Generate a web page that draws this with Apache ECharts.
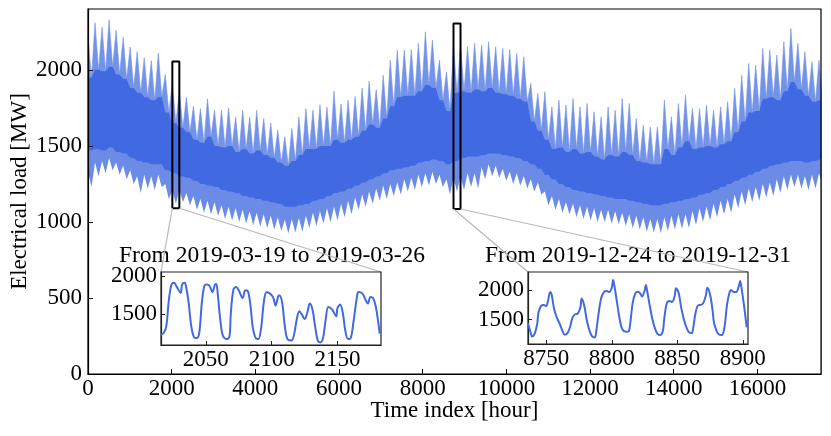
<!DOCTYPE html>
<html>
<head>
<meta charset="utf-8">
<script src="https://cdn.jsdelivr.net/npm/echarts@6/dist/echarts.min.js"></script>
<style>html,body{margin:0;padding:0;background:#fff}#c{width:831px;height:436px}</style>
</head>
<body>
<div id="c"></div>
<script>
// ---------------- data ----------------
const HOURS_PER_WEEK = 168;
// weekly envelope of the hourly load [MW], week 0 .. 104
const weeklyPeak = [2220,2310,2280,2330,2260,2215,2150,2120,2080,2060,
  2110,1970,1910,1860,1820,1760,1745,1810,1735,1735,
  1750,1690,1735,1690,1735,1680,1650,1605,1560,1615,
  1690,1745,1735,1770,1755,1860,1775,1800,1825,1880,
  1925,1870,1965,2064,2130,2130,2134,2174,2250,2196,
  2064,1987,2160,2163,2152,2174,2163,2185,2152,2141,
  2134,2108,2086,1911,1845,1856,1757,1801,1768,1812,
  1757,1779,1724,1691,1757,1735,1812,1779,1680,1636,
  1625,1625,1801,1691,1779,1834,1746,1746,1768,1735,
  1757,1790,1878,1965,2042,2031,2141,2130,2097,2185,
  2272,2174,2119,2053,2064];
const weeklyCoreTop = [1950,2000,1990,2020,1970,1940,1880,1850,1820,1800,
  1820,1720,1650,1620,1590,1540,1520,1560,1500,1490,
  1500,1460,1480,1450,1470,1440,1420,1390,1370,1400,
  1440,1480,1480,1500,1500,1540,1520,1540,1560,1600,
  1640,1620,1680,1760,1820,1830,1830,1860,1900,1880,
  1800,1730,1850,1860,1850,1870,1860,1880,1850,1840,
  1830,1810,1790,1660,1600,1540,1480,1490,1460,1480,
  1450,1460,1430,1410,1440,1430,1460,1440,1400,1390,
  1380,1380,1480,1440,1490,1530,1480,1490,1500,1490,
  1510,1530,1590,1660,1720,1730,1810,1820,1800,1860,
  1920,1870,1830,1790,1800];
const weeklyCoreBottom = [1470,1480,1470,1490,1460,1450,1420,1400,1390,1380,
  1380,1340,1320,1300,1290,1270,1250,1240,1230,1210,
  1200,1190,1170,1160,1150,1140,1130,1120,1100,1100,
  1110,1120,1140,1150,1170,1190,1200,1220,1240,1260,
  1280,1300,1320,1340,1350,1360,1370,1390,1400,1410,
  1400,1380,1400,1420,1430,1430,1440,1450,1450,1440,
  1430,1420,1400,1380,1350,1310,1280,1250,1230,1210,
  1200,1190,1180,1170,1160,1150,1150,1140,1130,1120,
  1110,1110,1120,1130,1140,1150,1160,1180,1190,1210,
  1230,1250,1270,1290,1310,1330,1350,1370,1380,1390,
  1400,1400,1390,1400,1410];
const weeklyTroughUpper = [1330,1390,1400,1420,1390,1370,1340,1300,1310,1300,
  1310,1250,1210,1210,1190,1170,1150,1140,1130,1110,
  1100,1090,1080,1070,1060,1050,1040,1030,1015,1020,
  1025,1040,1060,1070,1090,1100,1120,1140,1160,1180,
  1200,1220,1240,1250,1260,1280,1290,1310,1320,1330,
  1310,1280,1290,1300,1320,1320,1360,1380,1370,1350,
  1330,1320,1300,1280,1260,1200,1170,1150,1130,1120,
  1110,1100,1090,1080,1080,1070,1060,1050,1040,1030,
  1020,1020,1030,1040,1050,1050,1070,1090,1100,1120,
  1140,1150,1180,1200,1220,1230,1250,1260,1280,1300,
  1310,1310,1300,1310,1320];
const weeklyTroughLower = [1230,1300,1320,1340,1310,1280,1250,1190,1220,1210,
  1230,1150,1120,1130,1110,1080,1060,1050,1040,1020,
  1010,1000,990,980,970,960,950,940,925,930,
  935,960,975,990,1000,1010,1030,1050,1080,1100,
  1120,1140,1150,1170,1180,1200,1210,1230,1240,1250,
  1230,1180,1200,1210,1230,1220,1280,1300,1290,1270,
  1250,1240,1220,1200,1180,1110,1080,1060,1050,1030,
  1020,1010,1000,1000,990,985,975,960,950,935,
  930,925,940,950,955,960,980,1000,1010,1030,
  1050,1060,1090,1110,1130,1140,1160,1170,1190,1210,
  1230,1220,1210,1220,1240];

// inset 1 : 2019-03-19 .. 2019-03-26
const inset1Hours = [2016,2018,2020,2022,2024,2026,2028,2031,2032,2034,2035,2037,2039,2041,2043,2045,2047,2049,
  2051,2053,2055,2057,2058,2059,2061,2063,2066,2068,2069,2071,2073,2075,2078,2080,2082,2084,2086,2089,2090,
  2092,2094,2096,2098,2101,2103,2105,2106,2108,2110,2112,2115,2117,2119,2121,2123,2125,2127,2129,2131,2133,
  2135,2137,2139,2141,2143,2146,2149,2150,2152,2154,2156,2158,2160,2162,2165,2166,2169,2171,2173,2175,2177,
  2179,2181,2182];
const inset1Load = [1226,1248,1336,1690,1889,1912,1858,1779,1889,1912,1867,1646,1336,1195,1181,1248,1646,1876,
  1889,1867,1788,1889,1898,1779,1425,1212,1168,1204,1513,1823,1858,1814,1712,1814,1801,1602,1292,1168,1168,
  1314,1646,1788,1779,1726,1611,1735,1743,1646,1336,1168,1150,1226,1425,1535,1491,1434,1513,1637,1558,1336,
  1150,1124,1181,1425,1593,1558,1469,1580,1624,1513,1270,1168,1181,1381,1757,1792,1770,1699,1637,1726,1712,
  1602,1381,1239];

// inset 2 : 2019-12-24 .. 2019-12-31
const inset2Hours = [8736,8738,8739,8741,8743,8744,8746,8748,8750,8751,8753,8754,8756,8758,8760,8762,8764,8766,
  8768,8770,8772,8774,8776,8777,8779,8781,8783,8785,8787,8788,8790,8792,8794,8796,8798,8800,8801,8802,8804,
  8806,8808,8811,8813,8814,8816,8818,8820,8822,8823,8825,8826,8827,8829,8831,8833,8835,8837,8839,8840,8842,
  8844,8846,8848,8849,8851,8853,8855,8857,8859,8861,8862,8864,8866,8868,8870,8872,8873,8875,8877,8878,8880,
  8882,8884,8886,8888,8890,8891,8893,8895,8897,8898,8899,8901,8903];
const inset2Load = [1438,1281,1213,1253,1421,1618,1730,1747,1730,1787,1966,1927,1674,1534,1438,1326,1242,1264,
  1365,1534,1590,1601,1702,1854,1730,1478,1309,1213,1197,1281,1618,1871,1966,1983,1966,2039,2169,2067,1787,
  1506,1337,1292,1303,1421,1787,1944,1972,1933,1888,1983,2084,1983,1730,1506,1348,1253,1236,1309,1506,1775,
  1815,1798,1899,2028,1955,1702,1506,1365,1281,1270,1337,1618,1742,1747,1787,1927,2039,1927,1646,1449,1309,
  1242,1236,1365,1758,1966,2000,1966,1966,2067,2152,2039,1730,1365];

const inset1Range = { x: [2016, 2183], y: [1090, 2055] };
const inset2Range = { x: [8736, 8904], y: [1085, 2305] };
const inset1Title = 'From 2019-03-19 to 2019-03-26';
const inset2Title = 'From 2019-12-24 to 2019-12-31';

const mainXRange = [0, 17520];
const mainYRange = [0, 2400];
const mainXTicks = [0, 2000, 4000, 6000, 8000, 10000, 12000, 14000, 16000];
const mainYTicks = [0, 500, 1000, 1500, 2000];
const inset1XTicks = [2050, 2100, 2150];
const inset2XTicks = [8750, 8800, 8850, 8900];
const insetYTicks = [1500, 2000];

// ---------------- chart ----------------
const FONT = 'Liberation Serif';
const BLUE = '#4169E1';
const LIGHT = '#7393e9';
const LOWER = '#6b8be6';

function weekly(a, b) {
  const out = [];
  for (let w = 0; w < a.length; w++) {
    out.push([w * HOURS_PER_WEEK, a[w]]);
    out.push([w * HOURS_PER_WEEK + HOURS_PER_WEEK / 2, b[w]]);
  }
  return out;
}
function zip(xs, ys) { return xs.map((x, i) => [x, ys[i]]); }
function rect(r) {
  return [[r.x[0], r.y[0]], [r.x[1], r.y[0]], [r.x[1], r.y[1]], [r.x[0], r.y[1]], [r.x[0], r.y[0]]];
}
const plain = (v) => String(v);

const bandBase = {
  type: 'line', xAxisIndex: 0, yAxisIndex: 0, symbol: 'none', showSymbol: false,
  silent: true, animation: false, clip: true, lineStyle: { opacity: 0, width: 0 }
};

const lbl = (size) => ({ fontFamily: FONT, fontSize: size, color: '#000' });

function axisCommon(color, len, ticks, margin) {
  return {
    axisLine: { show: true, lineStyle: { color: color, width: 1.2 } },
    axisTick: { show: true, inside: true, length: len, customValues: ticks, lineStyle: { color: color, width: 1 } },
    axisLabel: Object.assign(lbl(23), { customValues: ticks, margin: margin, formatter: plain }),
    splitLine: { show: false }
  };
}

const chart = echarts.init(document.getElementById('c'), null, { renderer: 'canvas' });
chart.setOption({
  animation: false,
  backgroundColor: '#fff',
  title: [
    { text: inset1Title, left: 272, top: 244, textAlign: 'center', padding: 0,
      textStyle: Object.assign(lbl(23.5), { fontWeight: 'normal' }) },
    { text: inset2Title, left: 638, top: 244, textAlign: 'center', padding: 0,
      textStyle: Object.assign(lbl(23.5), { fontWeight: 'normal' }) }
  ],
  grid: [
    { left: 88, top: 9, right: 10, bottom: 62, show: true, backgroundColor: 'transparent',
      borderColor: '#000', borderWidth: 1.2, z: 5, containLabel: false, outerBoundsMode: 'none' },
    { left: 161, top: 272, width: 220, height: 73, show: true, backgroundColor: '#fff',
      borderColor: '#222', borderWidth: 1.2, z: 10, containLabel: false, outerBoundsMode: 'none' },
    { left: 528, top: 272, width: 220, height: 72, show: true, backgroundColor: '#fff',
      borderColor: '#222', borderWidth: 1.2, z: 10, containLabel: false, outerBoundsMode: 'none' }
  ],
  xAxis: [
    Object.assign({ type: 'value', gridIndex: 0, min: mainXRange[0], max: mainXRange[1], z: 6,
      name: 'Time index [hour]', nameLocation: 'middle', nameGap: 25, nameMoveOverlap: false,
      nameTextStyle: lbl(23) },
      axisCommon('#000', 5, mainXTicks, 3)),
    Object.assign({ type: 'value', gridIndex: 1, min: inset1Range.x[0], max: inset1Range.x[1], z: 11 },
      axisCommon('#222', 4, inset1XTicks, 3)),
    Object.assign({ type: 'value', gridIndex: 2, min: inset2Range.x[0], max: inset2Range.x[1], z: 11 },
      axisCommon('#222', 4, inset2XTicks, 3))
  ],
  yAxis: [
    Object.assign({ type: 'value', gridIndex: 0, min: mainYRange[0], max: mainYRange[1], z: 6,
      name: 'Electrical load [MW]', nameLocation: 'middle', nameGap: 57, nameMoveOverlap: false,
      nameTextStyle: lbl(23) },
      axisCommon('#000', 5, mainYTicks, 6)),
    Object.assign({ type: 'value', gridIndex: 1, min: inset1Range.y[0], max: inset1Range.y[1], z: 11 },
      axisCommon('#222', 4, insetYTicks, 4)),
    Object.assign({ type: 'value', gridIndex: 2, min: inset2Range.y[0], max: inset2Range.y[1], z: 11 },
      axisCommon('#222', 4, insetYTicks, 4))
  ],
  series: [
    Object.assign({}, bandBase, { name: 'peaks', z: 2, data: weekly(weeklyPeak, weeklyCoreTop),
      lineStyle: { color: LIGHT, width: 0.6 }, areaStyle: { color: LIGHT, opacity: 1 } }),
    Object.assign({}, bandBase, { name: 'core', z: 2, data: weekly(weeklyCoreTop, weeklyCoreTop),
      areaStyle: { color: BLUE, opacity: 1 } }),
    Object.assign({}, bandBase, { name: 'lower', z: 2, data: weekly(weeklyCoreBottom, weeklyCoreBottom),
      areaStyle: { color: LOWER, opacity: 1 } }),
    Object.assign({}, bandBase, { name: 'troughs', z: 2, data: weekly(weeklyTroughUpper, weeklyTroughLower),
      areaStyle: { color: '#ffffff', opacity: 1 } }),
    { type: 'line', xAxisIndex: 0, yAxisIndex: 0, z: 6, symbol: 'none', silent: true, clip: false,
      data: rect(inset1Range), lineStyle: { color: '#000', width: 2 } },
    { type: 'line', xAxisIndex: 0, yAxisIndex: 0, z: 6, symbol: 'none', silent: true, clip: false,
      data: rect(inset2Range), lineStyle: { color: '#000', width: 2 } },
    { type: 'line', xAxisIndex: 1, yAxisIndex: 1, z: 12, symbol: 'none', silent: true, smooth: 0.35,
      data: zip(inset1Hours, inset1Load), lineStyle: { color: BLUE, width: 2 } },
    { type: 'line', xAxisIndex: 2, yAxisIndex: 2, z: 12, symbol: 'none', silent: true, smooth: 0.35,
      data: zip(inset2Hours, inset2Load), lineStyle: { color: BLUE, width: 2 } }
  ]
});

// connector lines from the marked boxes to the insets (positions through the axes' scales)
const px = (gi, xy) => chart.convertToPixel({ gridIndex: gi }, xy);
const links = [
  [px(0, [inset1Range.x[0], inset1Range.y[0]]), px(1, [inset1Range.x[0], inset1Range.y[1]])],
  [px(0, [inset1Range.x[1], inset1Range.y[0]]), px(1, [inset1Range.x[1], inset1Range.y[1]])],
  [px(0, [inset2Range.x[0], inset2Range.y[0]]), px(2, [inset2Range.x[0], inset2Range.y[1]])],
  [px(0, [inset2Range.x[1], inset2Range.y[0]]), px(2, [inset2Range.x[1], inset2Range.y[1]])]
];
chart.setOption({
  graphic: links.map(([a, b]) => ({
    type: 'line', silent: true, z: 7,
    shape: { x1: a[0], y1: a[1], x2: b[0], y2: b[1] },
    style: { stroke: '#b8b8b8', lineWidth: 1.2 }
  }))
});
</script>
</body>
</html>
